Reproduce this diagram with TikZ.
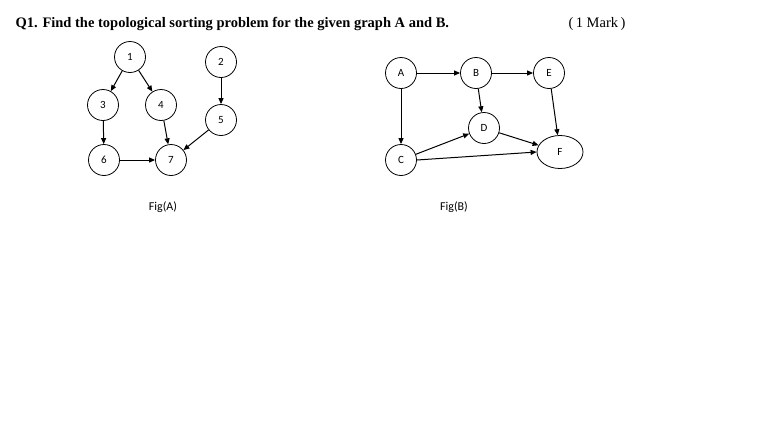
\documentclass[tikz,border=0pt]{standalone}
\usepackage{fontspec}
\setmainfont{Liberation Serif}
\newfontfamily\carlitofont{Carlito}
\usetikzlibrary{arrows.meta,shapes.geometric}
\begin{document}
\begin{tikzpicture}[x=1pt,y=-1pt,
  vx/.style={circle,draw,line width=0.8pt,minimum size=31pt,inner sep=0pt,font=\carlitofont\fontsize{11}{12}\selectfont},
  ar/.style={-{Triangle[length=6pt,width=5pt]},line width=1pt}]
\useasboundingbox (0,0) rectangle (773,432);
\node[anchor=west,font=\bfseries\fontsize{14.5}{16}\selectfont] (t) at (12,24) {Q1. Find the topological sorting problem for the given graph A and B.};
\node[font=\fontsize{14.5}{16}\selectfont] (m) at (597,24) {(\,1 Mark\,)};
\node[vx] (n1) at (130,57) {1};
\node[vx] (n2) at (221,62) {2};
\node[vx] (n3) at (103,105) {3};
\node[vx] (n4) at (161,105) {4};
\node[vx] (n5) at (221,120) {5};
\node[vx] (n6) at (104,160) {6};
\node[vx] (n7) at (171,160) {7};
\draw[ar] (n1) -- (n3); \draw[ar] (n1) -- (n4);
\draw[ar] (n3) -- (n6); \draw[ar] (n4) -- (n7);
\draw[ar] (n2) -- (n5); \draw[ar] (n5) -- (n7);
\draw[ar] (n6) -- (n7);
\node[vx] (A) at (401,73) {A};
\node[vx] (B) at (476,73) {B};
\node[vx] (E) at (549,73) {E};
\node[vx] (D) at (484,128) {D};
\node[vx] (C) at (401,160) {C};
\node[vx,ellipse,minimum width=46pt,minimum height=33pt] (F) at (560,152) {F};
\draw[ar] (A) -- (B); \draw[ar] (B) -- (E);
\draw[ar] (A) -- (C); \draw[ar] (B) -- (D);
\draw[ar] (E) -- (F); \draw[ar] (D) -- (F);
\draw[ar] (C) -- (D); \draw[ar] (C.east) -- (F.west);
\node[font=\carlitofont\fontsize{12}{14}\selectfont] (fa) at (163,207) {Fig(A)};
\node[font=\carlitofont\fontsize{12}{14}\selectfont] (fb) at (454,207) {Fig(B)};
\end{tikzpicture}
\end{document}
